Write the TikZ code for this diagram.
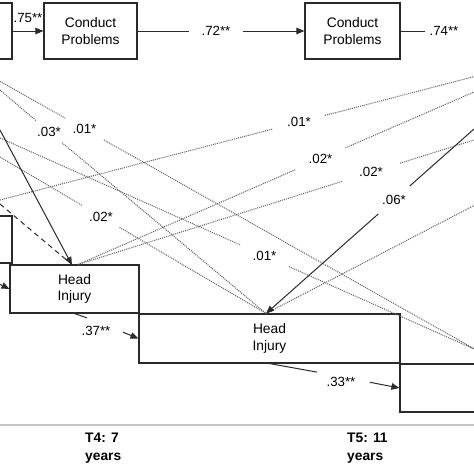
\documentclass[tikz,border=0pt]{standalone}
\usepackage{fontspec}
\setmainfont{Liberation Sans}
\usetikzlibrary{arrows.meta}
\definecolor{dotc}{HTML}{606060}
\definecolor{solc}{HTML}{2A2A2A}
\definecolor{rulec}{HTML}{C4C4C4}
\begin{document}
\begin{tikzpicture}[x=1pt,y=-1pt,
  box/.style={draw=solc, line width=1.1pt, minimum height=56pt, align=center,
    font=\fontsize{13.8}{16.5}\selectfont, inner sep=0pt},
  lab/.style={font=\fontsize{13.3}{15}\selectfont, inner sep=0pt},
  gap/.style={font=\fontsize{13.3}{15}\selectfont, inner ysep=6pt, inner xsep=8pt},
  dl/.style={draw=dotc, line width=1pt, dash pattern=on 1pt off 1pt},
  sl/.style={draw=solc, line width=1pt},
  dsl/.style={draw=solc, line width=1pt, dash pattern=on 5pt off 4pt},
  tip/.style={-{Triangle[length=8pt,width=6.5pt]}},
  tlab/.style={font=\bfseries\fontsize{13.8}{18.5}\selectfont, align=left, anchor=west, inner sep=0pt}
]
\useasboundingbox (0,0) rectangle (474,474);
\clip (0,0) rectangle (474,474);

% boxes
\node[box, minimum width=92pt] (CP3) at (-34,31) {};
\node[box, minimum width=93pt] (CP4) at (90.5,31) {Conduct\\Problems};
\node[box, minimum width=95pt] (CP5) at (352.5,31) {Conduct\\Problems};
\node[box, minimum width=108pt, minimum height=47pt] (HI3) at (-42,239.5) {};
\node[box, minimum width=129pt, minimum height=48pt] (HI4) at (74.5,289) {Head\\Injury};
\node[box, minimum width=261pt, minimum height=49pt] (HI5) at (269.5,338.5) {Head\\Injury};
\node[box, minimum width=150pt, minimum height=48pt] (HI6) at (475,388) {};

% top row
\node[lab] (l75) at (28,18) {.75**};
\draw[sl,tip] (CP3) -- (CP4);
\node[gap, inner xsep=12pt] (l72) at (216,31) {.72**};
\draw[sl] (CP4) -- (l72);
\draw[sl,tip] (l72) -- (CP5);
\node[gap, inner xsep=4pt] (l74) at (444,31) {.74**};
\draw[sl] (CP5) -- (l74);

% end points
\coordinate (sL1) at (0,81.3);   \coordinate (eL1) at (474,348.7);
\coordinate (sL2) at (0,90);
\coordinate (sL3) at (0,138);    \coordinate (eL3) at (474,349);
\coordinate (sL4) at (0,157);
\coordinate (sU1) at (0,200);    \coordinate (eU1) at (474,76.6);
\coordinate (q4) at (78,264.5);
\coordinate (eU2) at (474,92);
\coordinate (eU3) at (474,140);
\coordinate (sS2) at (474,129);
\coordinate (p5) at (266,313.5);
\coordinate (eU4) at (474,205.5);
\coordinate (sS1) at (0,130);
\coordinate (p4) at (72,265);
\coordinate (sD1) at (0,204);
\coordinate (eD1) at (69,262);

% labels on the cross paths
\node[gap] (g1) at (84.5,129) {.01*};
\node[gap] (g2) at (49,131.7) {.03*};
\node[gap, inner xsep=16pt] (g3) at (264.5,255.7) {.01*};
\node[gap] (g4) at (101,216.6) {.02*};
\node[gap, inner xsep=14pt] (g5) at (299,122.2) {.01*};
\node[gap, inner xsep=14pt] (g6) at (320.5,158.7) {.02*};
\node[gap, inner xsep=17pt] (g7) at (371,172.3) {.02*};
\node[gap, inner ysep=9pt] (g8) at (394,200) {.06*};

% dotted paths
\draw[dl] (sL1) -- (g1) -- (eL1);
\draw[dl] (sL2) -- (g2) -- (p5);
\draw[dl] (sL3) -- (g3) -- (eL3);
\draw[dl] (sL4) -- (g4) -- (p5);
\draw[dl] (sU1) -- (g5) -- (eU1);
\draw[dl] (q4) -- (g6) -- (eU2);
\draw[dl] (q4) -- (g7) -- (eU3);
\draw[dl] (p5) -- (eU4);

% solid and dashed paths
\draw[sl] (sS2) -- (g8);
\draw[sl,tip] (g8) -- (p5);
\draw[sl,tip] (sS1) -- (p4);
\draw[dsl] (sD1) -- (eD1);
\draw[sl,tip] (HI3.south) -- (HI4.west);

% autoregressive head injury paths
\coordinate (c37a) at (87,317.9);
\coordinate (c37b) at (123,332.2);
\draw[sl] (HI4.south) -- (c37a);
\draw[sl,tip] (c37b) -- (HI5.west);
\node[lab] (l37) at (96,331) {.37**};
\coordinate (c33a) at (317,372.1);
\coordinate (c33b) at (370,382.3);
\draw[sl] (HI5.south) -- (c33a);
\draw[sl,tip] (c33b) -- (HI6.west);
\node[lab] (l33) at (341,382) {.33**};

% time axis
\coordinate (r0) at (0,425);
\coordinate (r1) at (474,425);
\draw[draw=rulec, line width=1.5pt] (r0) -- (r1);
\node[tlab] (t4) at (85,448) {T4: 7\\years};
\node[tlab] (t5) at (347,448) {T5: 11\\years};
\end{tikzpicture}
\end{document}
